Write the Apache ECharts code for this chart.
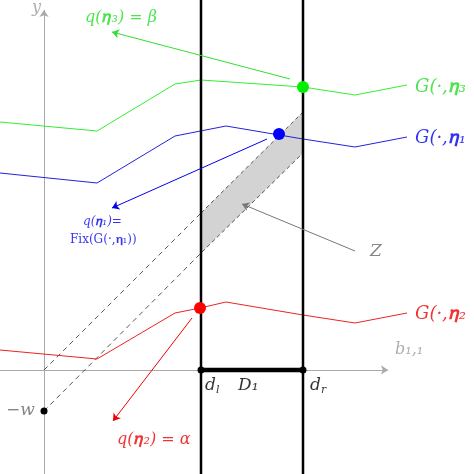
<!DOCTYPE html><html><head><meta charset="utf-8"><script src="https://cdn.jsdelivr.net/npm/echarts@6/dist/echarts.min.js"></script></head><body style="margin:0"><div id="c" style="width:474px;height:474px"></div><script>
const greenLine=[[0,122],[97,131],[175,84],[201,80],[303,87],[355,95],[407,85]];
const blueLine=[[0,173],[97,183],[175,136],[226,126],[303,139],[355,147],[407,137]];
const redLine=[[0,350],[97,359],[175,313],[200,308],[226,302],[303,315],[355,323],[407,313]];
const band=[[201,213],[303,112],[303,153],[201,253]];
const dashA=[[44,370],[201,213]];
const dashB=[[44,411],[201,253]];
const dots=[[303,87,'#00ee00'],[279,134,'#0000ff'],[200,308,'#ff0000'],[44,411,'#000'],[201,370,'#000'],[303,370,'#000']];
const arrows=[[[290,79],[112,32],'#33dd33'],[[267,139],[112,208],'#0000ee'],[[192,318],[113,421],'#ee0000'],[[355,251],[242,204],'#777']];
const texts=[['q(𝛈₃) = β',85,18,'#22dd22',16,'i'],['G(·,𝛈₃',415,87,'#22dd22',18,'i'],['G(·,𝛈₁',415,138,'#0000ee',18,'i'],['G(·,𝛈₂',415,314,'#ee0000',18,'i'],
['q(𝛈₁)=',83,222,'#0000ee',12,'i'],['Fix(G(·,𝛈₁))',70,240,'#0000ee',12,'n'],['Z',370,252,'#666',17,'i'],['b₁,₁',395,350,'#999',16,'i'],['y',32,8,'#999',16,'i'],
['d_l',205,386,'#000',17,'i'],['D₁',238,386,'#000',17,'i'],['d_r',310,386,'#000',17,'i'],['−w',6,411,'#666',17,'i'],['q(𝛈₂) = α',117,440,'#ee0000',16,'i']];
const ch=echarts.init(document.getElementById('c'));
const ln=(d,c,w,t)=>({type:'line',data:d,symbol:'none',lineStyle:{color:c,width:w,type:t||'solid'},z:3,silent:true});
ch.setOption({animation:false,
grid:{left:0,right:0,top:0,bottom:0},
xAxis:{type:'value',min:0,max:474,show:false},
yAxis:{type:'value',min:0,max:474,inverse:true,show:false},
series:[
ln(dashA,'#555',1,[5,4]),ln(dashB,'#555',1,[5,4]),
{type:'custom',renderItem:(p,api)=>({type:'polygon',shape:{points:band.map(q=>api.coord(q))},style:{fill:'#d3d3d3',stroke:'#555',lineWidth:1,lineDash:[4,3]}}),data:[0],z:3},
{type:'lines',coordinateSystem:'cartesian2d',symbol:['none','arrow'],symbolSize:7,data:[{coords:[[44,474],[44,10]]},{coords:[[0,370],[388,370]]}],lineStyle:{color:'#aaa',width:1,opacity:1},z:0},
ln(greenLine,'#33ee33',1),ln(blueLine,'#2222dd',1),ln(redLine,'#ee2222',1),
ln([[201,0],[201,474]],'#000',2.5),ln([[303,0],[303,474]],'#000',2.5),ln([[201,370],[303,370]],'#000',4.5),
{type:'lines',coordinateSystem:'cartesian2d',symbol:['none','arrow'],symbolSize:7,data:arrows.map(a=>({coords:[a[0],a[1]],lineStyle:{color:a[2],width:1,opacity:1}})),z:4},
{type:'scatter',data:dots.map(d=>({value:[d[0],d[1]],symbolSize:d[2]=='#000'?7:12,itemStyle:{color:d[2],opacity:1}})),z:6},
{type:'scatter',symbolSize:0,data:texts.map(t=>({value:[t[1],t[2]],label:{show:true,position:'right',distance:0,formatter:t[0].replace('_l','{s|l}').replace('_r','{s|r}'),color:t[3],fontSize:t[4],fontFamily:'DejaVu Serif',fontStyle:t[5]=='i'?'italic':'normal',rich:{s:{fontSize:11,fontStyle:'italic',fontFamily:'DejaVu Serif',color:t[3],padding:[8,0,0,0]}}}})),z:7}
]});
</script></body></html>
